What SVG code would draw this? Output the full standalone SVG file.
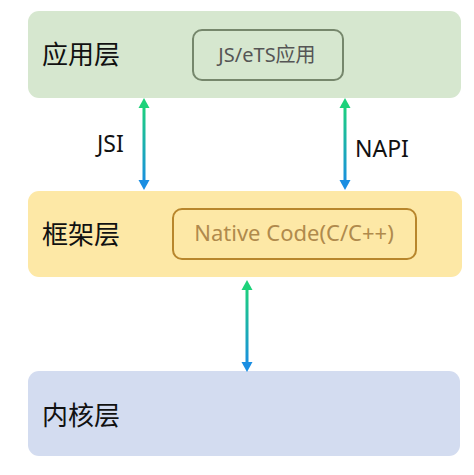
<svg xmlns="http://www.w3.org/2000/svg" width="474" height="475" viewBox="0 0 474 475">
<defs>
<linearGradient id="g1" x1="0" y1="0" x2="0" y2="1">
<stop offset="0" stop-color="#1dd27a"/>
<stop offset="1" stop-color="#1a8ee2"/>
</linearGradient>
</defs>
<style>
.layer{font-family:"Noto Sans CJK SC","Noto Sans",sans-serif;font-size:26px;fill:#111}
.lbl{font-family:"Noto Sans","Noto Sans CJK SC",sans-serif;font-size:23px;fill:#111}
.shaft{fill:url(#g1)}
.up{fill:#1dd27a}
.dn{fill:#1a8ee2}
</style>
<rect width="474" height="475" fill="#ffffff"/>
<g id="app">
<rect x="28" y="11" width="433" height="87" rx="11" fill="#d6e7cf"/>
<text class="layer" x="42" y="64">应用层</text>
</g>
<g id="jsets">
<rect x="193" y="30" width="150" height="50" rx="9" fill="#d6e7cf" stroke="#76876c" stroke-width="2"/>
<text x="267" y="62" text-anchor="middle" font-family="Noto Sans, Noto Sans CJK SC, sans-serif" font-size="20" fill="#555555">JS/eTS应用</text>
</g>
<g id="framework">
<rect x="28" y="191" width="434" height="86" rx="11" fill="#fde8a6"/>
<text class="layer" x="42" y="244">框架层</text>
</g>
<g id="native">
<rect x="173" y="209" width="243" height="50" rx="9" fill="#fde8a6" stroke="#b8862c" stroke-width="2"/>
<text x="294" y="241" text-anchor="middle" font-family="Noto Sans, sans-serif" font-size="22" fill="#b08a4c">Native Code(C/C++)</text>
</g>
<g id="kernel">
<rect x="28" y="371" width="432" height="85" rx="11" fill="#d3dcf0"/>
<text class="layer" x="42" y="425">内核层</text>
</g>
<g id="connectors">
<g id="c-jsi">
<rect class="shaft" x="142.5" y="104" width="3" height="80"/>
<polygon class="up" points="144,98 138.5,108 149.5,108"/>
<polygon class="dn" points="144,190 138.5,180 149.5,180"/>
</g>
<g id="c-napi">
<rect class="shaft" x="343.5" y="104" width="3" height="80"/>
<polygon class="up" points="345,98 339.5,108 350.5,108"/>
<polygon class="dn" points="345,190 339.5,180 350.5,180"/>
</g>
<g id="c-kernel">
<rect class="shaft" x="245.5" y="286" width="3" height="80"/>
<polygon class="up" points="247,280 241.5,290 252.5,290"/>
<polygon class="dn" points="247,372 241.5,362 252.5,362"/>
</g>
<text class="lbl" x="97" y="152">JSI</text>
<text class="lbl" x="355" y="157">NAPI</text>
</g>
</svg>
